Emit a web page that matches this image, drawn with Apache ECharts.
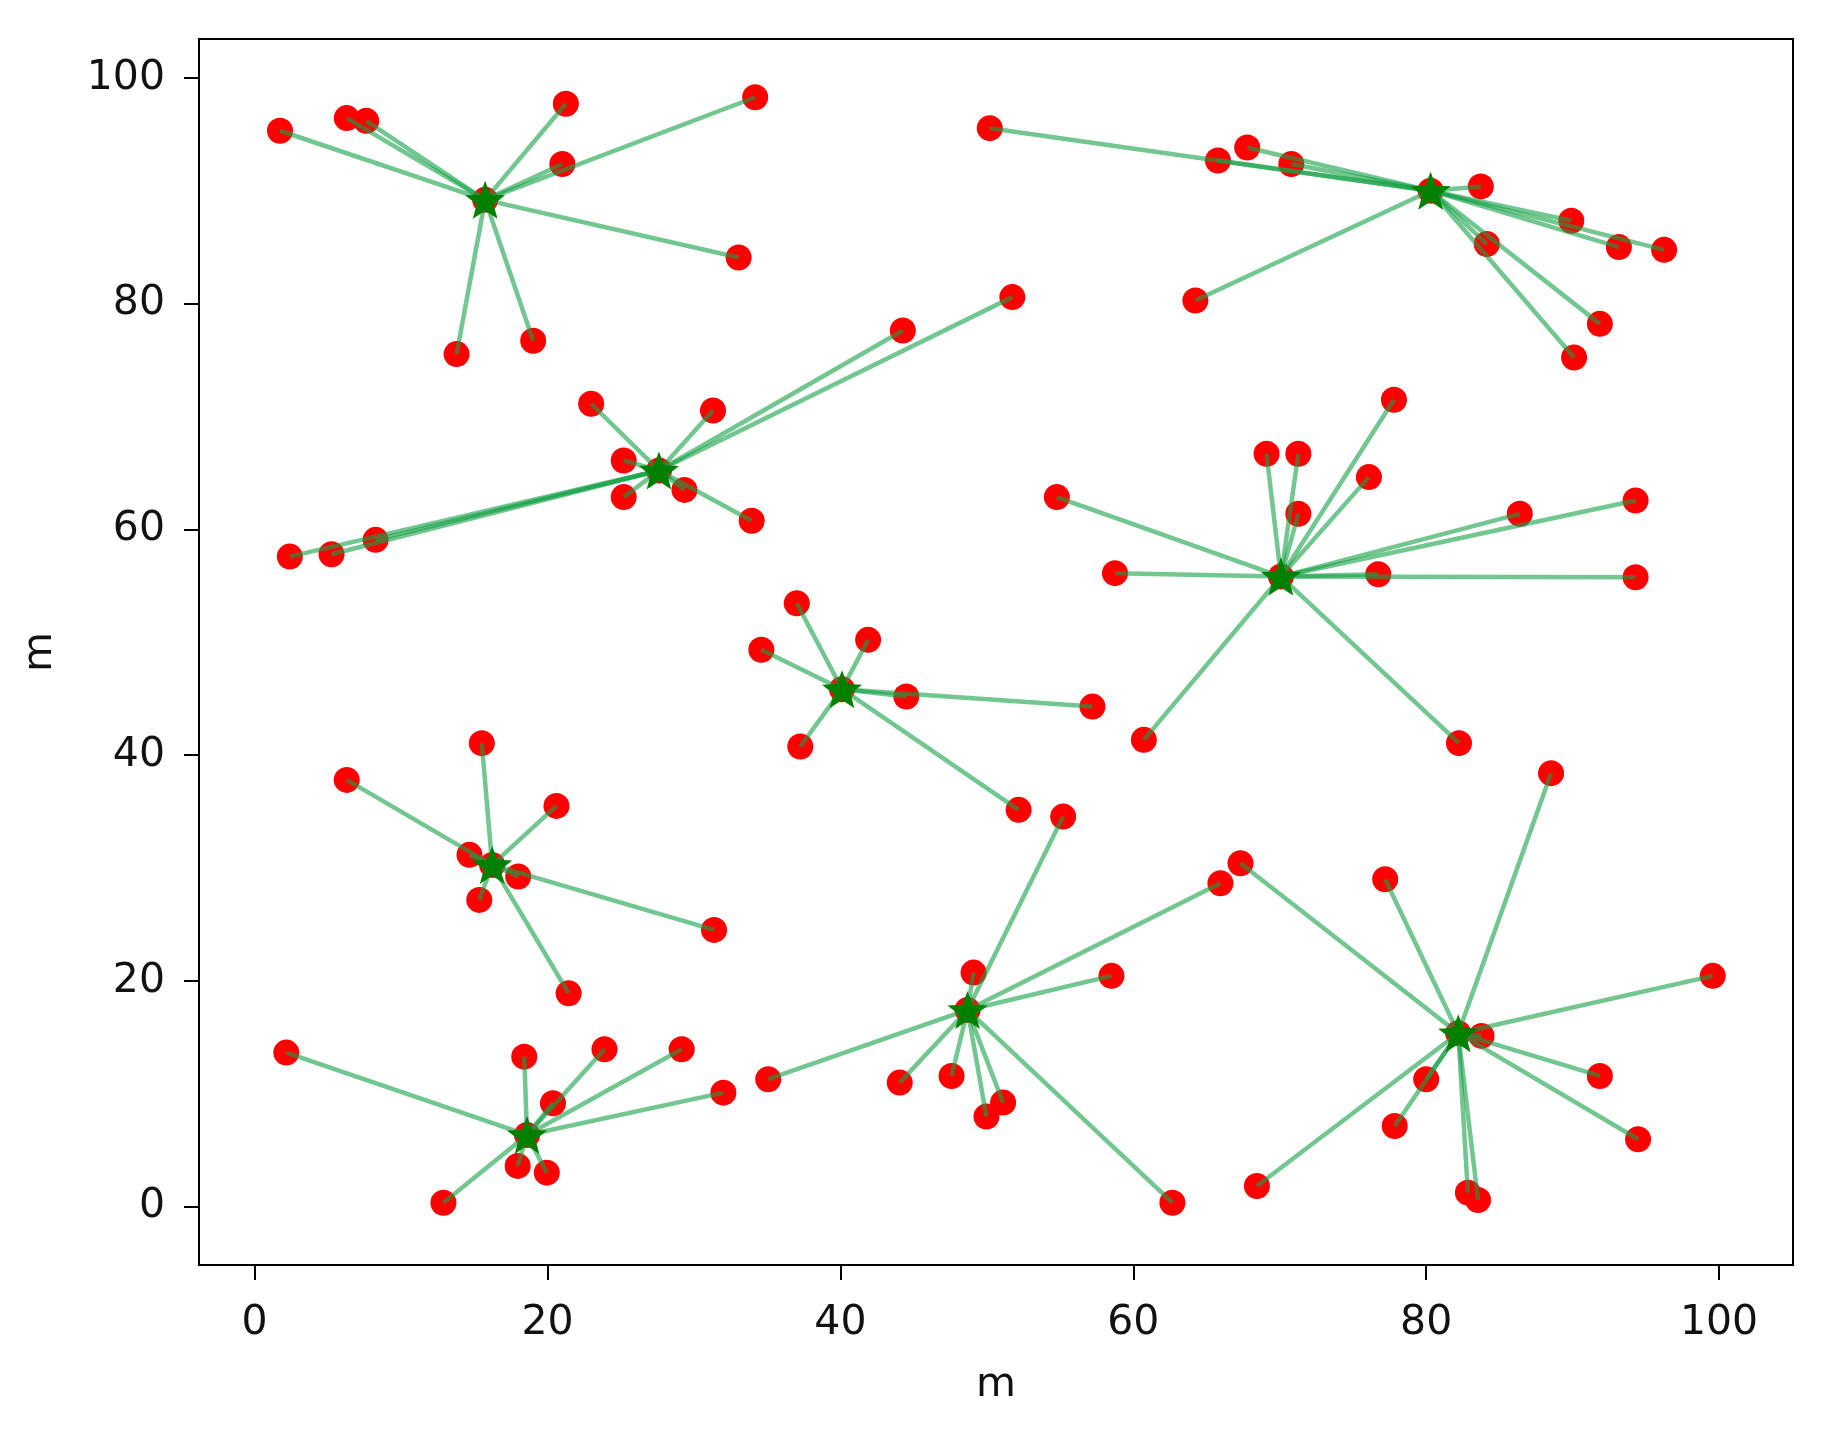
<!DOCTYPE html>
<html>
<head>
<meta charset="utf-8">
<title>Users and stations</title>
<script src="https://cdn.jsdelivr.net/npm/echarts@6/dist/echarts.min.js"></script>
<style>
  html, body { margin: 0; padding: 0; background: #fff; }
  #chart { width: 1827px; height: 1429px; }
</style>
</head>
<body>
<div id="chart"></div>
<script>
// station (star) positions, in m
var stationX = [15.74, 80.3, 27.61, 16.22, 18.6, 40.11, 70.08, 48.68, 82.19];
var stationY = [89.21, 90.02, 65.23, 30.28, 6.35, 45.85, 55.83, 17.43, 15.37];

// user positions, in m, grouped by the station they link to
var userX = [
  1.73, 6.29, 7.62, 21.25, 21.01, 34.18, 33.05, 13.79, 19.02,
  50.2, 65.78, 67.78, 70.79, 83.73, 89.91, 93.16, 96.25, 84.14, 91.86, 90.1, 64.24,
  25.2, 25.2, 29.35, 2.4, 5.25, 8.26, 33.94, 22.98, 31.3, 44.26, 51.74,
  15.51, 6.29, 20.61, 14.67, 18.0, 15.34, 31.37, 21.44,
  2.16, 18.41, 23.89, 29.16, 32.01, 20.37, 17.96, 19.95, 12.89,
  37.02, 34.6, 41.89, 44.5, 57.21, 37.26, 52.17,
  54.78, 58.75, 60.72, 69.1, 71.27, 76.09, 71.27, 86.39, 94.3, 76.73, 94.3, 82.24, 77.8,
  49.09, 58.51, 65.95, 35.07, 44.05, 47.59, 49.97, 51.11, 62.67, 55.21,
  77.2, 99.57, 83.78, 91.86, 94.47, 80.0, 77.85, 82.85, 83.54, 68.44, 88.53, 67.32
];
var userY = [
  95.33, 96.45, 96.21, 97.72, 92.38, 98.3, 84.1, 75.54, 76.72,
  95.56, 92.7, 93.85, 92.38, 90.4, 87.36, 85.02, 84.78, 85.29, 78.22, 75.24, 80.29,
  66.11, 62.87, 63.51, 57.6, 57.81, 59.08, 60.78, 71.14, 70.54, 77.63, 80.59,
  41.07, 37.81, 35.51, 31.17, 29.25, 27.18, 24.52, 18.91,
  13.65, 13.29, 13.95, 13.95, 10.1, 9.16, 3.61, 3.01, 0.35,
  53.47, 49.34, 50.22, 45.2, 44.31, 40.77, 35.16,
  62.87, 56.13, 41.36, 66.71, 66.71, 64.64, 61.39, 61.39, 62.57, 56.04, 55.77, 41.07, 71.49,
  20.74, 20.45, 28.66, 11.29, 10.99, 11.58, 7.98, 9.22, 0.35, 34.56,
  29.01, 20.45, 15.13, 11.58, 5.97, 11.29, 7.15, 1.24, 0.59, 1.83, 38.41, 30.43
];
var userLink = [
  0, 0, 0, 0, 0, 0, 0, 0, 0,
  1, 1, 1, 1, 1, 1, 1, 1, 1, 1, 1, 1,
  2, 2, 2, 2, 2, 2, 2, 2, 2, 2, 2,
  3, 3, 3, 3, 3, 3, 3, 3,
  4, 4, 4, 4, 4, 4, 4, 4, 4,
  5, 5, 5, 5, 5, 5, 5,
  6, 6, 6, 6, 6, 6, 6, 6, 6, 6, 6, 6, 6,
  7, 7, 7, 7, 7, 7, 7, 7, 7, 7,
  8, 8, 8, 8, 8, 8, 8, 8, 8, 8, 8, 8
];

var tickValues = [0, 20, 40, 60, 80, 100];

// five pointed star like matplotlib's '*' marker
function starPath() {
  var pts = [];
  for (var i = 0; i < 10; i++) {
    var r = i % 2 === 0 ? 1 : 0.42;
    var a = -Math.PI / 2 + i * Math.PI / 5;
    pts.push((r * Math.cos(a)).toFixed(3) + ' ' + (r * Math.sin(a)).toFixed(3));
  }
  return 'path://M' + pts.join(' L') + ' Z';
}

var userPoints = userX.map(function (x, i) { return [x, userY[i]]; });
var stationPoints = stationX.map(function (x, i) { return [x, stationY[i]]; });
var links = userX.map(function (x, i) {
  var s = userLink[i];
  return { coords: [[stationX[s], stationY[s]], [x, userY[i]]] };
});

var font = 'DejaVu Sans';
function makeAxis(min, max, pos) {
  return {
    type: 'value',
    position: pos,
    min: min,
    max: max,
    name: 'm',
    nameLocation: 'middle',
    nameGap: pos === 'bottom' ? 100 : 138,
    nameTextStyle: { fontFamily: font, fontSize: 41, color: '#111' },
    axisLine: { show: true, onZero: false, lineStyle: { color: '#000', width: 2 } },
    axisTick: { show: true, length: 15, customValues: tickValues, lineStyle: { color: '#000', width: 2 } },
    axisLabel: { margin: pos === 'bottom' ? 38 : 34, customValues: tickValues, fontFamily: font, fontSize: 41, color: '#111' },
    splitLine: { show: false }
  };
}

var myChart = echarts.init(document.getElementById('chart'));
myChart.setOption({
  animation: false,
  backgroundColor: '#fff',
  grid: {
    left: 199, top: 39, width: 1594, height: 1226,
    show: true, borderColor: '#000', borderWidth: 2, backgroundColor: '#fff'
  },
  xAxis: makeAxis(-3.8, 105.05, 'bottom'),
  yAxis: makeAxis(-5.17, 103.46, 'left'),
  series: [
    {
      name: 'users',
      type: 'scatter',
      z: 2,
      symbol: 'circle',
      symbolSize: 26,
      itemStyle: { color: '#ff0000', opacity: 1 },
      data: userPoints.concat(stationPoints)
    },
    {
      name: 'links',
      type: 'lines',
      coordinateSystem: 'cartesian2d',
      z: 3,
      lineStyle: { color: 'rgba(20,160,70,0.6)', width: 4.5, opacity: 1 },
      data: links
    },
    {
      name: 'stations',
      type: 'scatter',
      z: 4,
      symbol: starPath(),
      symbolKeepAspect: true,
      symbolSize: 40,
      itemStyle: { color: '#008000', opacity: 1 },
      data: stationPoints
    }
  ]
});
</script>
</body>
</html>
